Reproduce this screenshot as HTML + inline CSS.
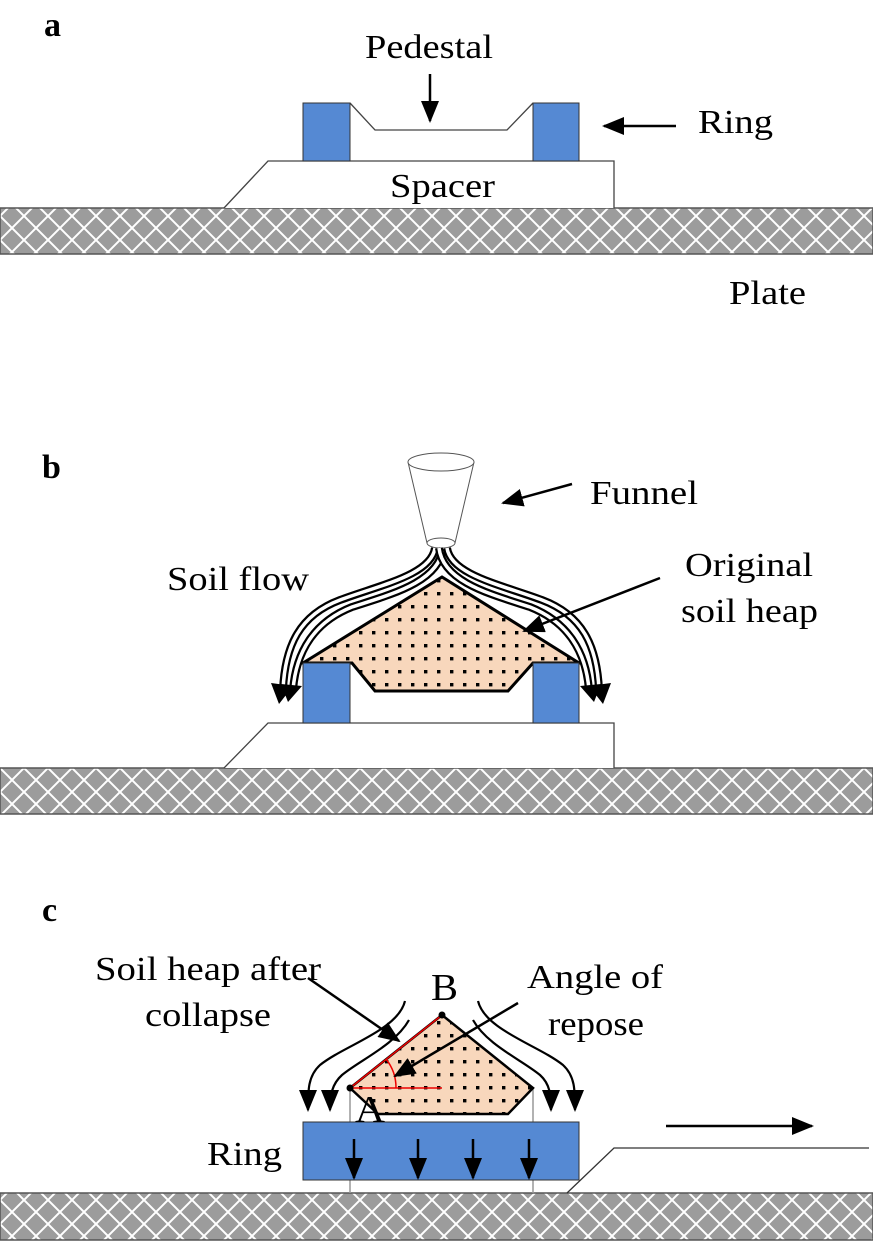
<!DOCTYPE html>
<html><head><meta charset="utf-8"><style>
html,body{margin:0;padding:0;background:#fff;}
svg{display:block;}
text{font-family:"Liberation Serif","DejaVu Serif",serif;font-size:34px;fill:#000;}
</style></head><body>
<svg width="873" height="1241" viewBox="0 0 873 1241" xmlns="http://www.w3.org/2000/svg" font-family="Liberation Serif, DejaVu Serif, serif">
<defs>
<pattern id="plate" width="24" height="24" patternUnits="userSpaceOnUse">
<rect width="24" height="24" fill="#9c9c9c"/>
<path d="M0,0 L24,24 M24,0 L0,24" stroke="#fff" stroke-width="2"/>
</pattern>
<pattern id="dots" width="13" height="13" patternUnits="userSpaceOnUse" x="3" y="2">
<rect width="13" height="13" fill="#f8d7bc"/>
<rect x="5" y="5" width="3.4" height="3.4" fill="#000"/>
</pattern>
<marker id="ahb" markerWidth="22" markerHeight="18" refX="20" refY="9" orient="auto" markerUnits="userSpaceOnUse">
<path d="M0,0 L22,9 L0,18 z" fill="#000"/>
</marker>
</defs>

<text x="44" y="36" style="font-weight:bold">a</text>
<rect x="0" y="208" width="873" height="46" fill="url(#plate)" stroke="#555" stroke-width="1.5"/>
<path d="M224,208 L268,161 L614,161 L614,208" fill="#fff" stroke="#444" stroke-width="1.3"/>
<path d="M350,103 L375,130 L507,130 L533,103" fill="none" stroke="#444" stroke-width="1.3"/>
<rect x="303" y="103" width="47" height="58" fill="#5589d3" stroke="#333" stroke-width="1"/>
<rect x="533" y="103" width="46" height="58" fill="#5589d3" stroke="#333" stroke-width="1"/>
<text x="365" y="58" textLength="128" lengthAdjust="spacingAndGlyphs">Pedestal</text>
<line x1="430" y1="74" x2="430" y2="121" stroke="#000" stroke-width="2.5" marker-end="url(#ahb)"/>
<text x="698" y="133" textLength="75" lengthAdjust="spacingAndGlyphs">Ring</text>
<line x1="676" y1="126" x2="604" y2="126" stroke="#000" stroke-width="2.5" marker-end="url(#ahb)"/>
<text x="390" y="197" textLength="105" lengthAdjust="spacingAndGlyphs">Spacer</text>
<text x="729" y="304" textLength="77" lengthAdjust="spacingAndGlyphs">Plate</text>

<text x="42" y="478" style="font-weight:bold">b</text>
<rect x="0" y="768" width="873" height="46" fill="url(#plate)" stroke="#555" stroke-width="1.5"/>
<path d="M224,768 L268,723 L614,723 L614,768" fill="#fff" stroke="#444" stroke-width="1.3"/>
<polygon points="303,663 442,577 579,663 533,663 508,691 375,691 352,663" fill="url(#dots)" stroke="#000" stroke-width="3"/>
<rect x="303" y="663" width="47" height="60" fill="#5589d3" stroke="#333" stroke-width="1"/>
<rect x="533" y="663" width="46" height="60" fill="#5589d3" stroke="#333" stroke-width="1"/>
<path d="M408,462 L427,543 M474,462 L455,543" stroke="#555" stroke-width="1" fill="none"/>
<ellipse cx="441" cy="462" rx="33" ry="9" fill="#fff" stroke="#555" stroke-width="1"/>
<ellipse cx="441" cy="543" rx="14" ry="5" fill="#fff" stroke="#555" stroke-width="1"/>
<g fill="none">
<path d="M435,548 C431,575 380,585 340,600 C300,615 285,645 283,690" stroke="#000" stroke-width="8"/>
<path d="M435,548 C431,575 380,585 340,600 C300,615 285,645 283,690" stroke="#fff" stroke-width="3.5"/>
<path d="M443,548 C439,582 392,594 352,607 C314,622 296,652 293,690" stroke="#000" stroke-width="8"/>
<path d="M443,548 C439,582 392,594 352,607 C314,622 296,652 293,690" stroke="#fff" stroke-width="3.5"/>
<path d="M447,548 C451,575 502,585 542,600 C582,615 597,645 599,690" stroke="#000" stroke-width="8"/>
<path d="M447,548 C451,575 502,585 542,600 C582,615 597,645 599,690" stroke="#fff" stroke-width="3.5"/>
<path d="M439,548 C443,582 490,594 530,607 C568,622 586,652 589,690" stroke="#000" stroke-width="8"/>
<path d="M439,548 C443,582 490,594 530,607 C568,622 586,652 589,690" stroke="#fff" stroke-width="3.5"/>
</g>
<path d="M271,683 L293,686 L279,704 z M281,684 L302,686 L288,702 z" fill="#000"/>
<path d="M611,683 L589,686 L603,704 z M601,684 L580,686 L594,702 z" fill="#000"/>
<text x="590" y="504" textLength="108" lengthAdjust="spacingAndGlyphs">Funnel</text>
<line x1="572" y1="484" x2="503" y2="503" stroke="#000" stroke-width="2.5" marker-end="url(#ahb)"/>
<text x="167" y="590" textLength="142" lengthAdjust="spacingAndGlyphs">Soil flow</text>
<text x="685" y="576" textLength="128" lengthAdjust="spacingAndGlyphs">Original</text>
<text x="681" y="622" textLength="137" lengthAdjust="spacingAndGlyphs">soil heap</text>
<line x1="660" y1="578" x2="524" y2="631" stroke="#000" stroke-width="2.5" marker-end="url(#ahb)"/>

<text x="42" y="921" style="font-weight:bold">c</text>
<rect x="0" y="1193" width="873" height="47" fill="url(#plate)" stroke="#555" stroke-width="1.5"/>
<path d="M567,1193 L614,1148 L869,1148" fill="none" stroke="#333" stroke-width="1.3"/>
<line x1="350" y1="1088" x2="350" y2="1193" stroke="#999" stroke-width="1.5"/>
<line x1="533" y1="1088" x2="533" y2="1193" stroke="#999" stroke-width="1.5"/>
<polygon points="350,1088 442,1015 533,1088 508,1114 378,1114" fill="url(#dots)" stroke="#000" stroke-width="2.5"/>
<path d="M350,1088 L442,1015 M350,1088 L442,1088" stroke="#e00" stroke-width="1.5"/>
<path d="M386,1059 A46,46 0 0 1 396,1088" stroke="#e00" stroke-width="1.5" fill="none"/>
<circle cx="350" cy="1088" r="3.5" fill="#000"/>
<circle cx="442" cy="1015" r="3.5" fill="#000"/>
<rect x="303" y="1122" width="276" height="58" fill="#5589d3" stroke="#333" stroke-width="1"/>
<g stroke="#000" stroke-width="2.5">
<line x1="354" y1="1139" x2="354" y2="1178" marker-end="url(#ahb)"/>
<line x1="418" y1="1139" x2="418" y2="1178" marker-end="url(#ahb)"/>
<line x1="473" y1="1139" x2="473" y2="1178" marker-end="url(#ahb)"/>
<line x1="529" y1="1139" x2="529" y2="1178" marker-end="url(#ahb)"/>
</g>
<g fill="none" stroke="#000" stroke-width="2.2">
<path d="M405,1001 C398,1030 345,1045 320,1065 C308,1076 308,1090 308,1110" marker-end="url(#ahb)"/>
<path d="M409,1020 C395,1045 360,1060 342,1075 C332,1084 330,1095 330,1110" marker-end="url(#ahb)"/>
<path d="M478,1001 C485,1030 538,1045 563,1065 C575,1076 575,1090 575,1110" marker-end="url(#ahb)"/>
<path d="M473,1020 C487,1045 522,1060 540,1075 C550,1084 551,1095 551,1110" marker-end="url(#ahb)"/>
</g>
<text x="95" y="980" textLength="226" lengthAdjust="spacingAndGlyphs">Soil heap after</text>
<text x="145" y="1026" textLength="126" lengthAdjust="spacingAndGlyphs">collapse</text>
<line x1="308" y1="978" x2="399" y2="1041" stroke="#000" stroke-width="2.5" marker-end="url(#ahb)"/>
<text x="431" y="1000" style="font-size:38px" textLength="27" lengthAdjust="spacingAndGlyphs">B</text>
<text x="527" y="988" textLength="136" lengthAdjust="spacingAndGlyphs">Angle of</text>
<text x="548" y="1035" textLength="96" lengthAdjust="spacingAndGlyphs">repose</text>
<line x1="518" y1="1003" x2="395" y2="1076" stroke="#000" stroke-width="2.5" marker-end="url(#ahb)"/>
<text x="355" y="1122" style="font-size:38px" textLength="30" lengthAdjust="spacingAndGlyphs">A</text>
<text x="207" y="1165" textLength="75" lengthAdjust="spacingAndGlyphs">Ring</text>
<line x1="666" y1="1126" x2="812" y2="1126" stroke="#000" stroke-width="2.5" marker-end="url(#ahb)"/>
</svg>
</body></html>
